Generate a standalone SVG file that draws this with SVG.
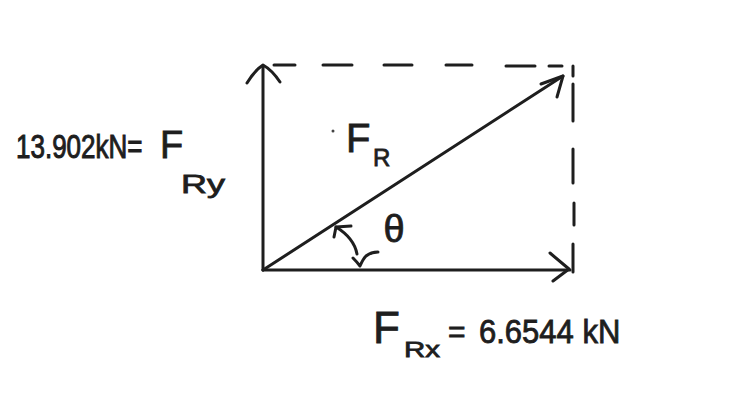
<svg xmlns="http://www.w3.org/2000/svg" width="749" height="416" viewBox="0 0 749 416">
<style>
.ln{fill:none;stroke:#1e1e1e;stroke-width:3;stroke-linecap:round;stroke-linejoin:round}
.ds{fill:none;stroke:#1e1e1e;stroke-width:3;stroke-linecap:round}
.t{font-family:"Liberation Sans",Arial,sans-serif;fill:#1e1e1e;stroke:#1e1e1e;stroke-width:0.8}
</style>
<rect width="749" height="416" fill="#ffffff"/>
<g id="connectors">
  <path class="ln" d="M263,270 L263,66"/>
  <path class="ln" d="M247,83 Q255,70 263,65 Q272,70 280,82"/>
  <path class="ln" d="M263,270 L570,270"/>
  <path class="ln" d="M550,253 L569,269 L553,281"/>
  <path class="ln" d="M263,270 L563,76"/>
  <path class="ln" d="M541,84 L563,76 L557,97"/>
  <path class="ds" d="M274,65 H295 M323,65 H352 M384,65 H412 M446,65 H472 M506,66 H535 M549,66 H562"/>
  <path class="ds" d="M573,66 V76 M573,84 V121 M573,149 V183 M574,203 V225 M573,244 V272"/>
  <path class="ln" d="M336,227 Q354,238 357,254"/>
  <path class="ln" d="M351,226 L336,227 L334,237"/>
  <path class="ln" d="M353,258 Q357,262 360,266 Q363,259 366,256 Q371,252 378,252"/>
</g>
<g id="label-fry">
  <text class="t" transform="translate(16,158) scale(1,1.3)" x="0" y="0" font-size="26">13.902kN=</text>
  <text class="t" x="160" y="158" font-size="38">F</text>
  <text class="t" x="181" y="193" font-size="26" textLength="44" lengthAdjust="spacingAndGlyphs">Ry</text>
</g>
<g id="label-fr">
  <circle cx="333" cy="131" r="1.5" fill="#444"/>
  <text class="t" x="346" y="152" font-size="40">F</text>
  <text class="t" x="373" y="166" font-size="24">R</text>
</g>
<g id="label-theta">
  <text class="t" x="394" y="242" font-size="38" text-anchor="middle">θ</text>
</g>
<g id="label-frx">
  <text class="t" x="373" y="343" font-size="44">F</text>
  <text class="t" x="404" y="357" font-size="22" textLength="36" lengthAdjust="spacingAndGlyphs">Rx</text>
  <text class="t" x="448" y="342" font-size="30">=</text>
  <text class="t" transform="translate(479,343) scale(1,1.1)" x="0" y="0" font-size="31">6.6544 kN</text>
</g>
</svg>
